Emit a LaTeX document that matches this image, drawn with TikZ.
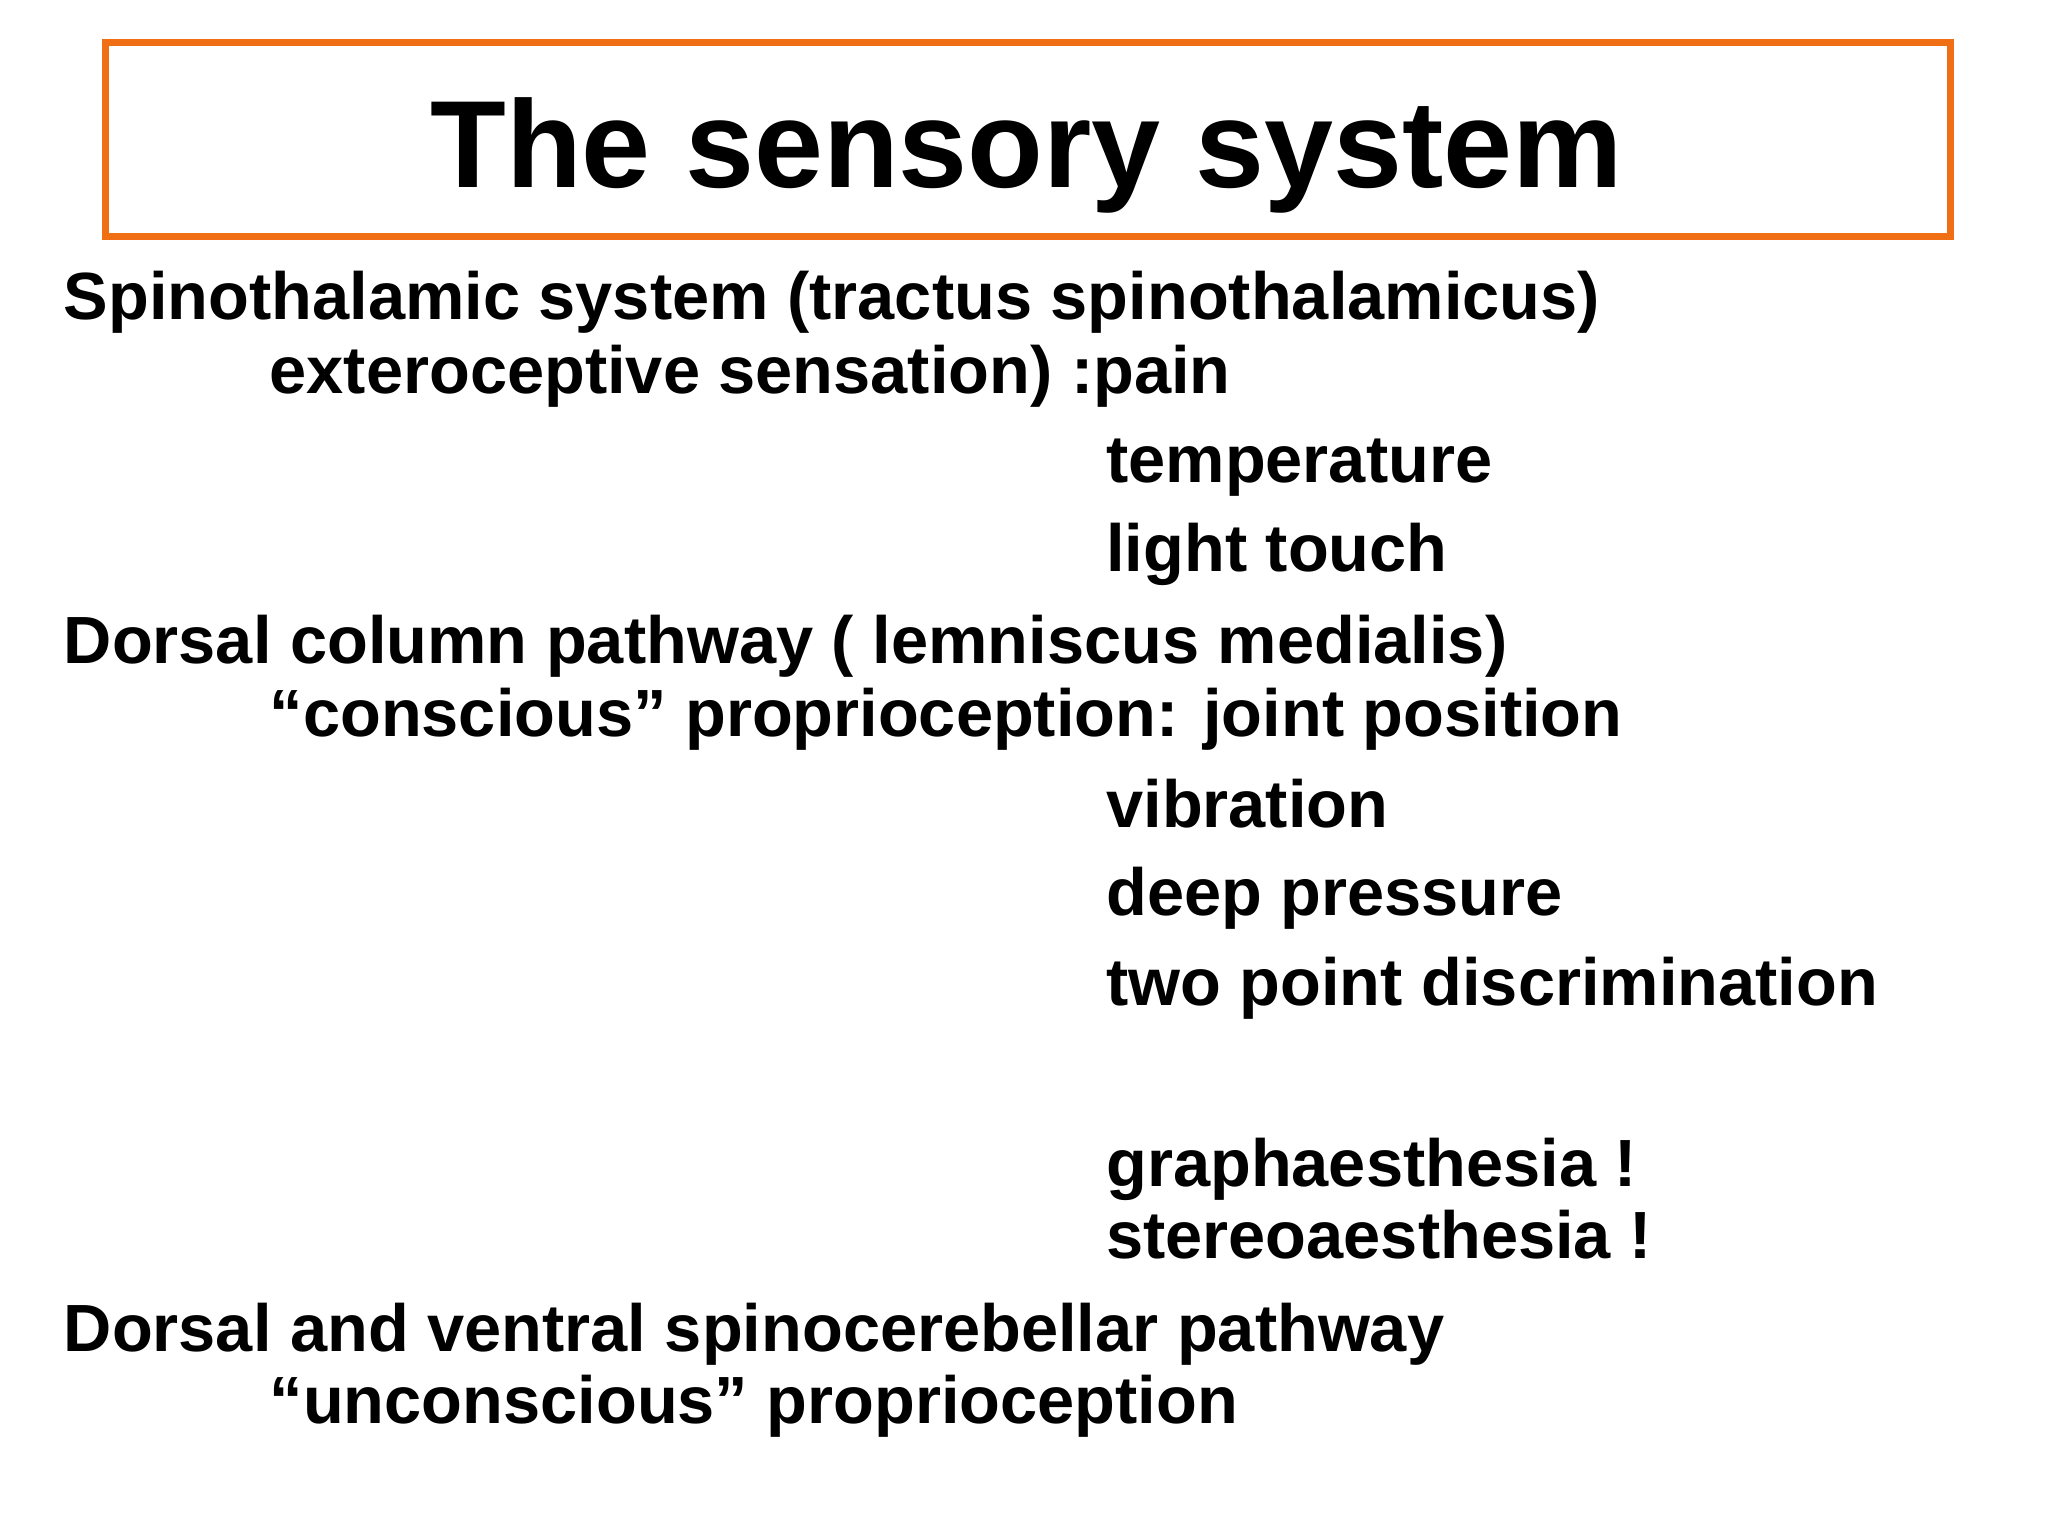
\documentclass[tikz,border=0pt]{standalone}
\usepackage{fontspec}
\setmainfont{Liberation Sans}
\begin{document}
\begin{tikzpicture}[x=0.5pt,y=-0.5pt,
  t/.style={anchor=base west,inner sep=0pt,font=\fontsize{25.3}{30}\selectfont\bfseries}]
\useasboundingbox (0,0) rectangle (1552,1164);
\draw[draw={rgb,255:red,240;green,110;blue,20},line width=2.5pt] (80,32) rectangle (1478,179);
\node[anchor=base,inner sep=0pt,font=\fontsize{47}{56}\selectfont\bfseries] (title) at (778,142) {The sensory system};
\node[t] (a1) at (48,242) {Spinothalamic system (tractus spinothalamicus)};
\node[t] (a2) at (204,298) {exteroceptive sensation) :pain};
\node[t] (a3) at (838,366) {temperature};
\node[t] (a4) at (838,433) {light touch};
\node[t] (b1) at (48,503) {Dorsal column pathway ( lemniscus medialis)};
\node[t] (b2) at (204,558) {“conscious” proprioception: joint position};
\node[t] (b3) at (838,627) {vibration};
\node[t] (b4) at (838,694) {deep pressure};
\node[t] (b5) at (838,762) {two point discrimination};
\node[t] (b6) at (838,899) {graphaesthesia !};
\node[t] (b7) at (838,954) {stereoaesthesia !};
\node[t] (c1) at (48,1024) {Dorsal and ventral spinocerebellar pathway};
\node[t] (c2) at (204,1079) {“unconscious” proprioception};
\end{tikzpicture}
\end{document}
